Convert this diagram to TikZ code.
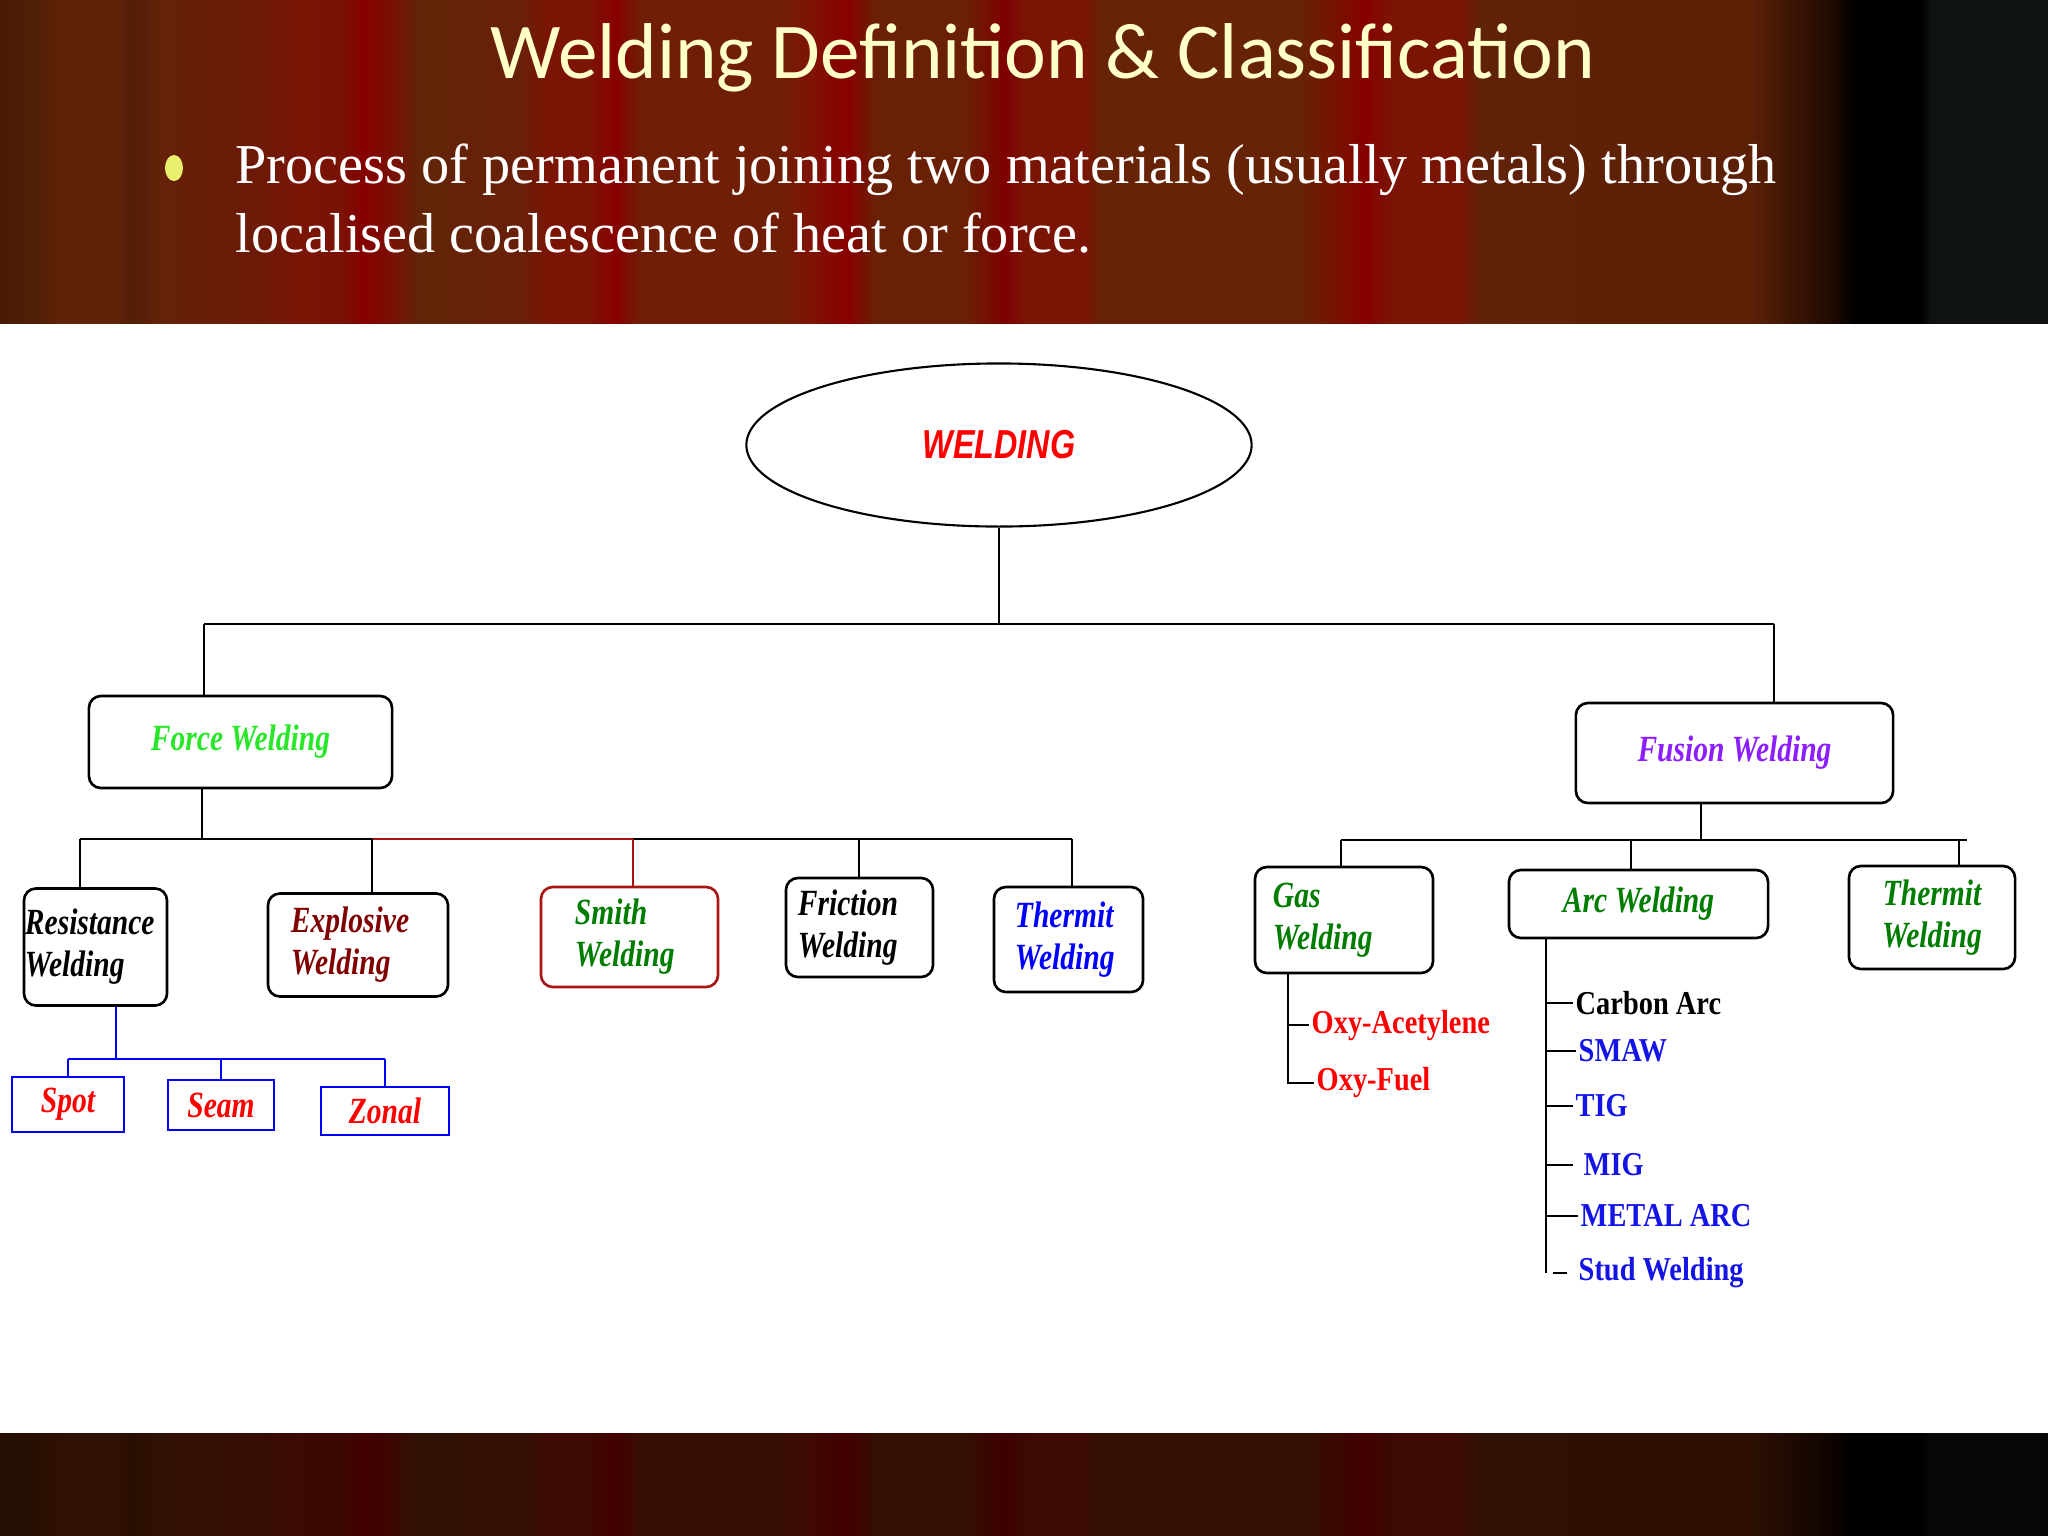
\documentclass[tikz,border=0pt]{standalone}
\usepackage{fontspec}
\setmainfont{Liberation Serif}
\newfontfamily\titlefont{Carlito}
\newfontfamily\boxfont[FakeStretch=0.8]{Liberation Serif}
\newfontfamily\listfont[FakeStretch=0.85]{Liberation Serif}
\newfontfamily\rootfont[FakeStretch=0.8]{Liberation Sans}
\usepackage{tikz}
\usetikzlibrary{shapes.geometric,positioning,calc}
\definecolor{pale}{RGB}{255,255,200}
\definecolor{dotc}{RGB}{232,240,110}
\definecolor{fgreen}{RGB}{40,230,40}
\definecolor{fpurple}{RGB}{140,30,255}
\definecolor{dkred}{RGB}{128,0,0}
\definecolor{smithred}{RGB}{170,20,20}
\definecolor{dgreen}{RGB}{0,125,0}
\definecolor{iblue}{RGB}{20,20,230}
% striped slide banner
\pgfdeclarehorizontalshading{banner}{100bp}{%
  rgb(0bp)=(0.29,0.11,0.02); rgb(25bp)=(0.29,0.11,0.02);
  rgb(25.85bp)=(0.31,0.12,0.02); rgb(26.46bp)=(0.376,0.133,0.031);
  rgb(27.88bp)=(0.376,0.133,0.031); rgb(28.17bp)=(0.32,0.12,0.02);
  rgb(28.91bp)=(0.39,0.133,0.04); rgb(31.35bp)=(0.43,0.10,0.03);
  rgb(32.32bp)=(0.478,0.082,0.02); rgb(33.30bp)=(0.478,0.07,0.02);
  rgb(33.91bp)=(0.525,0,0); rgb(34.52bp)=(0.478,0.063,0.02);
  rgb(35.25bp)=(0.384,0.145,0.031); rgb(37.70bp)=(0.41,0.125,0.031);
  rgb(38.43bp)=(0.486,0.078,0.02); rgb(39.40bp)=(0.486,0.078,0.02);
  rgb(40.01bp)=(0.533,0,0); rgb(40.63bp)=(0.44,0.118,0.02);
  rgb(44.04bp)=(0.44,0.118,0.02); rgb(44.78bp)=(0.5,0.075,0.02);
  rgb(45.70bp)=(0.533,0,0); rgb(46.36bp)=(0.416,0.125,0.02);
  rgb(48.56bp)=(0.416,0.125,0.02); rgb(49.54bp)=(0.5,0,0);
  rgb(50.02bp)=(0.478,0.082,0.02); rgb(51.49bp)=(0.478,0.082,0.02);
  rgb(51.86bp)=(0.4,0.137,0.02); rgb(56.74bp)=(0.4,0.137,0.02);
  rgb(57.71bp)=(0.478,0.063,0); rgb(58.32bp)=(0.53,0,0);
  rgb(58.94bp)=(0.478,0.082,0.02); rgb(60.64bp)=(0.478,0.082,0.02);
  rgb(61.13bp)=(0.376,0.133,0.031); rgb(67.72bp)=(0.36,0.125,0.024);
  rgb(69.68bp)=(0.125,0.04,0.008); rgb(70.29bp)=(0,0,0);
  rgb(71.88bp)=(0,0,0); rgb(72.12bp)=(0.055,0.07,0.063);
  rgb(75bp)=(0.055,0.07,0.063); rgb(100bp)=(0.055,0.07,0.063)}

\begin{document}
\begin{tikzpicture}[x=0.01cm, y=-0.01cm,
  box/.style={draw, rounded corners=0.12cm, line width=0.75pt, align=left,
    inner ysep=0pt, font=\boxfont\bfseries\itshape\fontsize{10.5}{12}\selectfont},
  subbox/.style={draw=blue, line width=0.7pt, text=red, inner sep=0pt,
    font=\boxfont\bfseries\itshape\fontsize{10.5}{12}\selectfont},
  leaf/.style={anchor=west, inner xsep=0.02cm, inner ysep=0pt, text=iblue,
    font=\listfont\bfseries\fontsize{9.5}{11}\selectfont},
  wire/.style={line width=0.6pt}]
  \useasboundingbox (0,0) rectangle (2048,1536);
  % slide background
  \shade[shading=banner] (0,0) rectangle (2048,324);
  \fill[white] (0,324) rectangle (2048,1433);
  \shade[shading=banner] (0,1433) rectangle (2048,1536);
  \fill[black,opacity=0.5] (0,1433) rectangle (2048,1536);
  % heading and definition
  \node[anchor=base, text=pale, font=\titlefont\fontsize{22.5}{26}\selectfont]
    (title) at (1043,78) {Welding Definition \& Classification};
  \node[ellipse, fill=dotc, minimum width=0.18cm, minimum height=0.26cm, inner sep=0pt]
    (dot) at (174,168) {};
  \node[anchor=base west, align=left, inner sep=0pt, text=white,
    font=\fontsize{16}{19.6}\selectfont] (defn) at (235,252)
    {Process of permanent joining two materials (usually metals) through\\
     localised coalescence of heat or force.};
  % root
  \node[ellipse, draw, line width=0.6pt, minimum width=5.05cm, minimum height=1.63cm,
    inner sep=0pt, text=red, font=\rootfont\bfseries\itshape\fontsize{11.5}{13}\selectfont]
    (weld) at (999,445) {WELDING};
  % level 1
  \node[box, minimum width=3.03cm, minimum height=0.92cm, text=fgreen] (force) at (240.5,742) {Force Welding};
  \node[box, minimum width=3.17cm, minimum height=1.0cm, text=fpurple] (fusion) at (1734.5,753) {Fusion Welding};
  % force welding family
  \node[box, text width=1.41cm, inner xsep=0.01cm, minimum height=1.17cm] (resist) at (95.5,947) {Resistance\\Welding};
  \node[box, text width=1.34cm, inner xsep=0.23cm, minimum height=1.03cm, text=dkred] (explo) at (358,945) {Explosive\\Welding};
  \node[box, text width=1.09cm, inner xsep=0.34cm, minimum height=1.0cm, draw=smithred, text=dgreen] (smith) at (629.5,937) {Smith\\Welding};
  \node[box, text width=1.23cm, inner xsep=0.12cm, minimum height=0.99cm] (frict) at (859.5,927.5) {Friction\\Welding};
  \node[box, text width=1.07cm, inner xsep=0.21cm, minimum height=1.05cm, text=blue] (therm) at (1068.5,939.5) {Thermit\\Welding};
  % resistance welding kinds
  \node[subbox, minimum width=1.12cm, minimum height=0.55cm] (spot) at (68,1104.5) {Spot};
  \node[subbox, minimum width=1.06cm, minimum height=0.50cm] (seam) at (221,1105) {Seam};
  \node[subbox, minimum width=1.28cm, minimum height=0.48cm] (zonal) at (385,1111) {Zonal};
  % fusion welding family
  \node[box, text width=1.42cm, inner xsep=0.18cm, minimum height=1.06cm, text=dgreen] (gas) at (1344,920) {Gas\\Welding};
  \node[box, minimum width=2.59cm, minimum height=0.68cm, text=dgreen] (arc) at (1638.5,904) {Arc Welding};
  \node[box, align=center, minimum width=1.66cm, minimum height=1.03cm, text=dgreen] (therm2) at (1932,917.5) {Thermit\\Welding};
  % gas and arc processes
  \node[leaf, text=red] (oxya) at (1309,1025) {Oxy-Acetylene};
  \node[leaf, text=red] (oxyf) at (1314,1083) {Oxy-Fuel};
  \node[leaf, text=black] (carbon) at (1573,1003) {Carbon Arc};
  \node[leaf] (smaw) at (1576,1051) {SMAW};
  \node[leaf] (tig) at (1573,1106) {TIG};
  \node[leaf] (mig) at (1581,1165) {MIG};
  \node[leaf] (metal) at (1578,1216) {METAL ARC};
  \node[leaf] (stud) at (1576,1273) {Stud Welding};

  % main bus
  \coordinate (busL) at (204,624);
  \coordinate (busR) at (1774,624);
  \draw[wire] (weld.south) -- (weld.south |- busL);
  \draw[wire] (busL) -- (busR);
  \draw[wire] (busL) -- (busL |- force.north);
  \draw[wire] (busR) -- (busR |- fusion.north);
  % force welding bus
  \coordinate (fa) at (202,839);
  \draw[wire] (force.south -| fa) -- (fa);
  \foreach \n/\xx in {1/80,2/372,3/633,4/859,5/1072}
    \coordinate (d\n) at (\xx,839);
  \draw[wire] (d1) -- (d2);
  \draw[wire,smithred] (d2) -- (d3);
  \draw[wire] (d3) -- (d5);
  \foreach \d/\b in {d1/resist,d2/explo,d4/frict,d5/therm}
    \draw[wire] (\d) -- (\d |- \b.north);
  \draw[wire,smithred] (d3) -- (d3 |- smith.north);
  % resistance bus
  \coordinate (r0) at (116,1059);
  \draw[wire,blue] (resist.south -| r0) -- (r0);
  \draw[wire,blue] (spot.north |- r0) -- (zonal.north |- r0);
  \foreach \b in {spot,seam,zonal}
    \draw[wire,blue] (\b.north |- r0) -- (\b.north);
  % fusion welding bus
  \coordinate (u0) at (1701,840);
  \coordinate (uL) at (1341,840);
  \coordinate (u2) at (1631,840);
  \coordinate (u3) at (1959,840);
  \coordinate (uR) at (1967,840);
  \draw[wire] (fusion.south -| u0) -- (u0);
  \draw[wire] (uL) -- (uR);
  \draw[wire] (uL) -- (uL |- gas.north);
  \draw[wire] (u2) -- (u2 |- arc.north);
  \draw[wire] (u3) -- (u3 |- therm2.north);
  % gas processes
  \coordinate (gv) at (1288,1083);
  \draw[wire] (gas.south -| gv) -- (gv) -- (oxyf.west);
  \draw[wire] (gv |- oxya) -- (oxya.west);
  % arc processes
  \coordinate (av) at (1546,1273);
  \draw[wire] (arc.south -| av) -- (av);
  \foreach \b in {carbon,smaw,tig,metal}
    \draw[wire] (av |- \b) -- (\b.west);
  \draw[wire] (av |- mig) -- ([xshift=-0.08cm]mig.west);
  \draw[wire] ([xshift=-0.23cm]stud.west) -- ([xshift=-0.09cm]stud.west);
\end{tikzpicture}
\end{document}
